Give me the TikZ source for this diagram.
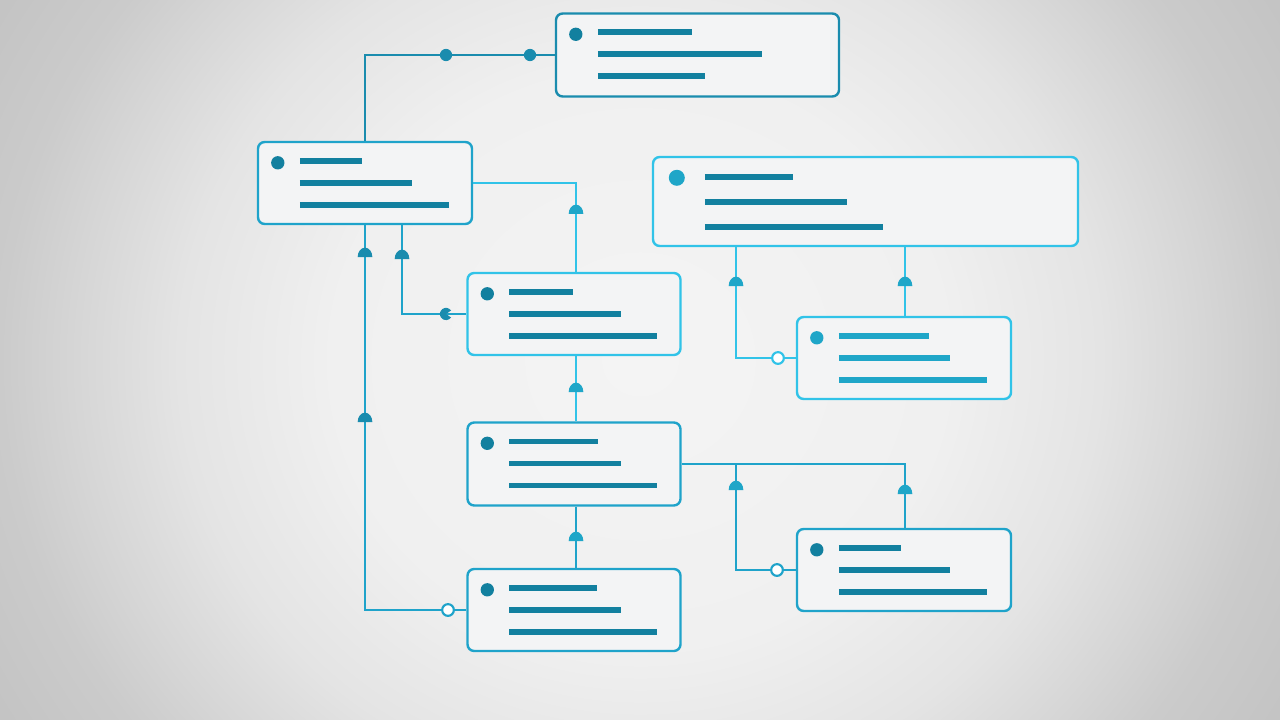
\documentclass[tikz,border=0pt]{standalone}
\usetikzlibrary{calc}
\definecolor{boxfill}{HTML}{F3F4F5}
\definecolor{tealdk}{HTML}{1A8CAE}
\definecolor{tealmd}{HTML}{1FA3CA}
\definecolor{cyanlt}{HTML}{31C3E8}
\definecolor{barcol}{HTML}{12809F}
\definecolor{barcyan}{HTML}{1FA6C8}
\definecolor{bg0}{HTML}{F4F4F4}
\definecolor{bg1}{HTML}{F0F0F0}
\definecolor{bg2}{HTML}{E4E4E4}
\definecolor{bg3}{HTML}{D6D6D6}
\definecolor{bg4}{HTML}{CBCBCB}
\definecolor{bg5}{HTML}{C2C2C2}
\pgfdeclareradialshading{vignette}{\pgfpoint{0bp}{0bp}}{%
  color(0bp)=(bg0); color(12bp)=(bg1); color(18bp)=(bg2);
  color(22bp)=(bg3); color(25bp)=(bg4); color(30bp)=(bg5);
  color(50bp)=(bg5)}
\newcommand{\entlines}[5]{%
  \fill[#5] ($(#1.north west)+(21,22)$) circle[radius=5pt];
  \draw[bar,#5] ($(#1.north west)+(43,20)$) -- ++(#2,0);
  \draw[bar,#5] ($(#1.north west)+(43,42)$) -- ++(#3,0);
  \draw[bar,#5] ($(#1.north west)+(43,64)$) -- ++(#4,0);
}
\begin{document}
\begin{tikzpicture}[x=0.75pt,y=-0.75pt,
  ent/.style={draw=#1, fill=boxfill, rounded corners=5pt, line width=1.8pt, inner sep=0pt},
  bar/.style={line width=4.2pt},
  conn/.style={draw=#1, line width=1.5pt},
  dome/.pic={\fill[#1] (-5.5pt,-3pt) arc[start angle=180,end angle=0,x radius=5.5pt,y radius=7pt] -- cycle;},
  fdot/.pic={\fill[#1] (0,0) circle[radius=4.6pt];},
  odot/.pic={\draw[#1,line width=1.6pt,fill=white] (0,0) circle[radius=4.4pt];},
  cdot/.pic={\fill[#1] (0,0) -- (35:4.6pt) arc[start angle=35,end angle=325,radius=4.6pt] -- cycle;}
]
\begin{scope}
\clip (0,0) rectangle (1280,720);
\shade[shading=vignette] (0,-240) rectangle (1280,960);
\end{scope}
\useasboundingbox (0,0) rectangle (1280,720);

% entities
\node[ent=tealdk, minimum width=212.25pt, minimum height=62.25pt] (A) at (697.5,55) {};
\node[ent=tealmd, minimum width=160.5pt, minimum height=61.5pt] (B) at (365,183) {};
\node[ent=cyanlt, minimum width=318.75pt, minimum height=66.75pt] (C) at (865.5,201.5) {};
\node[ent=cyanlt, minimum width=159.75pt, minimum height=61.5pt] (D) at (574,314) {};
\node[ent=cyanlt, minimum width=160.5pt, minimum height=61.5pt] (E) at (904,358) {};
\node[ent=tealmd, minimum width=159.75pt, minimum height=62.25pt] (F) at (574,464) {};
\node[ent=tealmd, minimum width=160.5pt, minimum height=61.5pt] (G) at (904,570) {};
\node[ent=tealmd, minimum width=159.75pt, minimum height=61.5pt] (H) at (574,610) {};

% placeholder lines
\entlines{A}{94}{164}{107}{barcol}
\entlines{B}{62}{112}{149}{barcol}
\entlines{D}{64}{112}{148}{barcol}
\entlines{E}{90}{111}{148}{barcyan}
\entlines{F}{89}{112}{148}{barcol}
\entlines{G}{62}{111}{148}{barcol}
\entlines{H}{88}{112}{148}{barcol}
\fill[barcyan] ($(C.north west)+(25,22)$) circle[radius=6pt];
\draw[bar,barcol] ($(C.north west)+(53,21)$) -- ++(88,0);
\draw[bar,barcol] ($(C.north west)+(53,46)$) -- ++(142,0);
\draw[bar,barcol] ($(C.north west)+(53,71)$) -- ++(178,0);

% connectors
\draw[conn=tealdk] (B.north) |- (A.west);
\draw[conn=cyanlt] (B.east) -| ([xshift=1.5pt]D.north);
\draw[conn=tealmd] (B.south) |- (H.west);
\draw[conn=tealmd] ([xshift=27.75pt]B.south) |- (D.west);
\draw[conn=cyanlt] ([xshift=1.5pt]D.south) -- ([xshift=1.5pt]F.north);
\draw[conn=tealmd] ([xshift=1.5pt]F.south) -- ([xshift=1.5pt]H.north);
\draw[conn=cyanlt] ([xshift=-97.1pt]C.south) coordinate (cb) |- (E.west);
\draw[conn=cyanlt] ([xshift=0.75pt]E.north |- C.south) -- ([xshift=0.75pt]E.north);
\draw[conn=tealmd] (F.east) -| ([xshift=0.75pt]G.north);
\draw[conn=tealmd] (F.east -| cb) |- (G.west);

% markers
\pic at (446,55) {fdot=tealdk};
\pic at (530,55) {fdot=tealdk};
\pic at (576,210) {dome=barcyan};
\pic at (365,253) {dome=tealdk};
\pic at (365,418) {dome=tealdk};
\pic at (448,610) {odot=tealmd};
\pic at (402,255) {dome=tealdk};
\pic at (446,314) {cdot=tealdk};
\pic at (576,388) {dome=barcyan};
\pic at (576,537) {dome=barcyan};
\pic at (736,282) {dome=barcyan};
\pic at (778,358) {odot=cyanlt};
\pic at (905,282) {dome=barcyan};
\pic at (905,490) {dome=barcyan};
\pic at (736,486) {dome=barcyan};
\pic at (777,570) {odot=tealmd};
\end{tikzpicture}
\end{document}
